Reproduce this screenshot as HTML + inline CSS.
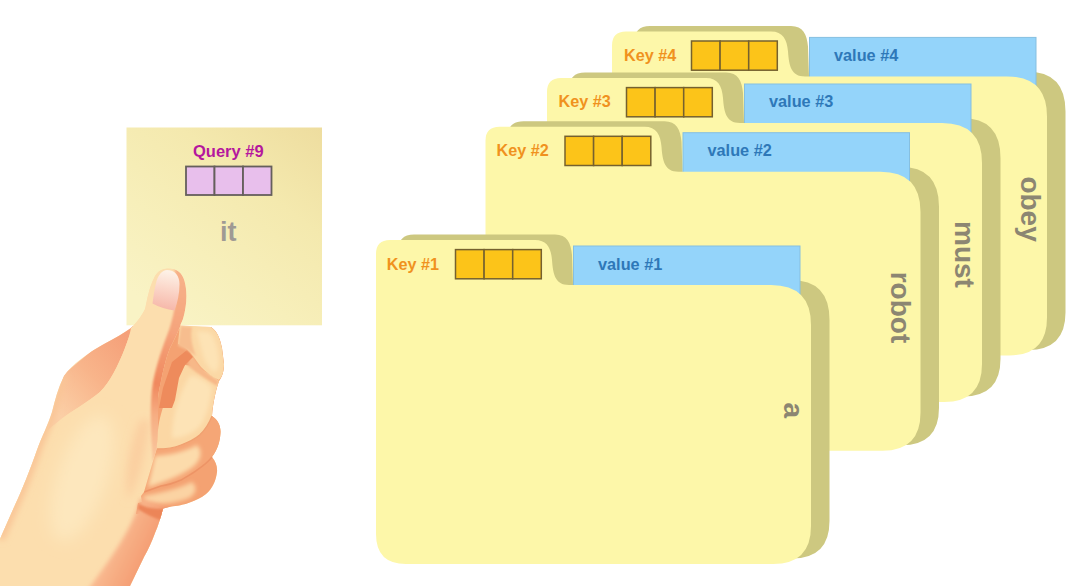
<!DOCTYPE html>
<html>
<head>
<meta charset="utf-8">
<style>
html,body{margin:0;padding:0;background:#fff;}
body{width:1080px;height:586px;overflow:hidden;font-family:"Liberation Sans",sans-serif;}
svg{display:block;}
text{font-family:"Liberation Sans",sans-serif;font-weight:bold;}
</style>
</head>
<body>
<svg width="1080" height="586" viewBox="0 0 1080 586">
<defs>
  <path id="fshape" d="M0,14 Q0,0 14,0 L159,0 C171,0 175,8 176,20 C177,34 179,45 193,45 L395,45 Q435,45 435,85 L435,286 Q435,324 397,324 L30,324 Q0,324 0,294 Z"/>
  <g id="folder">
    <path d="M22,11 Q22,-5.500 38,-5.500 L179,-5.500 C191,-5.500 195,3 196,15 L197,45 L415,40 Q453.500,40 453.500,80 L453.500,281 Q453.500,318.500 416,318.500 L50,318.500 Q20,318.500 20,289 Z" fill="#cdc880"/>
    <rect x="197.500" y="6" width="226.500" height="56" fill="#94d4fa" stroke="#86bfe0" stroke-width="1"/>
    <use href="#fshape" fill="#fdf7a9"/>
    <g fill="#fcc419" stroke="#75612f" stroke-width="1.5">
      <rect x="79.500" y="9.600" width="28.600" height="29.200"/>
      <rect x="108.100" y="9.600" width="28.600" height="29.200"/>
      <rect x="136.700" y="9.600" width="28.600" height="29.200"/>
    </g>
  </g>
  <linearGradient id="cardg" x1="1" y1="0" x2="0.25" y2="1">
    <stop offset="0" stop-color="#eedd9f"/>
    <stop offset="0.35" stop-color="#f4e9ae"/>
    <stop offset="0.7" stop-color="#f7efba"/>
    <stop offset="1" stop-color="#f9f3c5"/>
  </linearGradient>
</defs>
<rect width="1080" height="586" fill="#ffffff"/>

<!-- folders back to front -->
<g transform="translate(612,31.400)">
  <use href="#folder"/>
  <text x="12" y="29.700" font-size="16.200" fill="#f0921e">Key #4</text>
  <text x="222" y="29.700" font-size="16.300" fill="#2e78b8">value #4</text>
  <text transform="translate(409,145) rotate(90)" font-size="28" fill="#8c8672">obey</text>
</g>
<g transform="translate(547,78)">
  <use href="#folder"/>
  <text x="11.5" y="28.900" font-size="16.200" fill="#f0921e">Key #3</text>
  <text x="222" y="28.900" font-size="16.300" fill="#2e78b8">value #3</text>
  <text transform="translate(408,143) rotate(90)" font-size="28" fill="#8c8672">must</text>
</g>
<g transform="translate(485.5,126.7)">
  <use href="#folder"/>
  <text x="11" y="28.900" font-size="16.200" fill="#f0921e">Key #2</text>
  <text x="222" y="28.900" font-size="16.300" fill="#2e78b8">value #2</text>
  <text transform="translate(405.5,145) rotate(90)" font-size="28" fill="#8c8672">robot</text>
</g>
<g transform="translate(376,240)">
  <use href="#folder"/>
  <text x="10.7" y="29.700" font-size="16.200" fill="#f0921e">Key #1</text>
  <text x="222" y="29.700" font-size="16.300" fill="#2e78b8">value #1</text>
  <text transform="translate(408,162.5) rotate(90)" font-size="28" fill="#8c8672">a</text>
</g>

<!-- query card -->
<rect x="126.500" y="127.500" width="195.500" height="197.800" fill="url(#cardg)"/>
<text x="193" y="156.900" font-size="16.500" fill="#b5179e">Query #9</text>
<g fill="#e8bfec" stroke="#655f5c" stroke-width="1.8">
  <rect x="186" y="166.5" width="28.5" height="28.5"/>
  <rect x="214.5" y="166.5" width="28.5" height="28.5"/>
  <rect x="243" y="166.5" width="28.5" height="28.5"/>
</g>
<text x="220" y="240.5" font-size="27" fill="#9f9a94">it</text>

<!-- hand -->
<g id="hand">
<defs>
  <filter id="b1" x="-20%" y="-20%" width="140%" height="140%"><feGaussianBlur stdDeviation="1"/></filter>
  <filter id="b2" x="-20%" y="-20%" width="140%" height="140%"><feGaussianBlur stdDeviation="2"/></filter>
  <filter id="b3" x="-30%" y="-30%" width="160%" height="160%"><feGaussianBlur stdDeviation="3"/></filter>
  <filter id="b4" x="-30%" y="-30%" width="160%" height="160%"><feGaussianBlur stdDeviation="4"/></filter>
  <filter id="b8" x="-40%" y="-40%" width="180%" height="180%"><feGaussianBlur stdDeviation="8"/></filter>
  <clipPath id="thumbclip"><path d="M168,268.500 C177,268.500 182.500,273 184.500,281 C187.500,292 187,305 183,319 C179,330 174,340 170,348 C166,358 164,367 162,376 C160,386 158,394 158,400 L158,430 L156.600,449 L150,470 L100,470 L100,260 Z"/></clipPath>
  <clipPath id="handclip"><path d="M168,268.500 C177,268.500 182.500,273 184.500,281 C187.500,292 187,305 183,319 L180,325.5 L211,327 C217,331 220,338 222,348 L224,364 C224,372 222,377 219,381 C216,390 213,402 212,416 C218,420 221,426 220.500,433 C220,441 218,449 212,457 C216,462 217.500,467 217,472 C216,480 213,488 206,494 C201,498 196,500 191,502 C184,505 176,506 171,506.500 L163,508.500 C161,517 158,526 155,533 C152,541 148,550 144,557 L130,586 L0,586 L0,539 C5,528 10,516 15,505 C22,490 30,470 37,450 C42,436 48,425 52,412 C55,400 58,388 64,376 C72,364 88,353 104,344 C115,338 124,333 131,328 C138,321 142,315 145,309 C147.500,298 149,288 154,278 C157,272 161,268.500 168,268.500 Z"/></clipPath>
  <linearGradient id="thenar" gradientUnits="userSpaceOnUse" x1="130" y1="340" x2="55" y2="410">
    <stop offset="0" stop-color="#f5a079"/><stop offset="0.5" stop-color="#f8b48a"/><stop offset="1" stop-color="#fbcfa6"/>
  </linearGradient>
  <linearGradient id="nail" gradientUnits="userSpaceOnUse" x1="170" y1="272" x2="163" y2="310">
    <stop offset="0" stop-color="#fdf1e6"/><stop offset="0.4" stop-color="#fbd9cc"/><stop offset="1" stop-color="#f6b6a8"/>
  </linearGradient>
  <linearGradient id="armsh" gradientUnits="userSpaceOnUse" x1="108" y1="535" x2="150" y2="555">
    <stop offset="0" stop-color="#fac097"/><stop offset="0.5" stop-color="#f7ad83"/><stop offset="1" stop-color="#f49c72"/>
  </linearGradient>
  <linearGradient id="tband" gradientUnits="userSpaceOnUse" x1="183" y1="280" x2="156" y2="450">
    <stop offset="0" stop-color="#f7b088"/><stop offset="0.3" stop-color="#f5a47c"/><stop offset="0.62" stop-color="#f0895e"/><stop offset="0.8" stop-color="#f6ad82"/><stop offset="1" stop-color="#f9c298"/>
  </linearGradient>
</defs>
<g clip-path="url(#handclip)">
  <!-- base -->
  <rect x="0" y="260" width="240" height="330" fill="#fcdeae"/>
  <!-- thenar orange -->
  <path d="M131,326 L100,344 L64,374 L48,430 L59,421 C70,412 88,402 100,392 C110,382 118,366 125,348 C128,340 130,334 133,326 Z" fill="url(#thenar)"/>
  <!-- finger area base orange -->
  <path d="M160,330 L230,325 L230,520 L130,520 L134,500 L144,470 L150,450 L150,400 L156,370 L166,345 Z" fill="#f4a272"/>
  <!-- ring finger highlight -->
  <path d="M143,496 C160,493 178,489 192,482 C198,487 196,494 189,498 C176,503 160,505 145,504 Z" fill="#fbd3a3" filter="url(#b2)"/>
  <!-- wrist crease -->
  <path d="M138,503 C148,509 158,509 172,507 L172,514 L136,514 Z" fill="#ee895d" filter="url(#b1)"/>
  <!-- middle finger -->
  <path d="M156.600,449 C166,449 174,448 181,445 C189,442 195,439 199.600,435 C205,430 209,424 212,416 C218,420 221,426 220.500,433 C220,441 218,449 212,457 C208,462 203,466 197.600,469.600 C192,474 186,477 181,480 C174,483 168,485 161,486 L144,492 Z" fill="#f5a676"/>
  <path d="M155,456 C170,455 184,452 197,445 C203,451 201,460 194,466 C184,474 168,481 148,487 Z" fill="#fcdbab" filter="url(#b2)"/>
  <path d="M212,457 C208,462 203,466 197.600,469.600 C192,474 186,477 181,480 C174,483 168,485 161,486 L144,492" stroke="#ed9466" stroke-width="1.5" fill="none"/>
  <!-- index finger seg 2 -->
  <path d="M185,365 C196,366 208,372 219,381 C216,390 213,402 212,416 C209,424 205,430 199.600,435 C195,439 189,442 181,445 C174,448 166,449 156.600,449 L158,430 C160,410 172,380 185,365 Z" fill="#fbd7a4"/>
  <path d="M190,376 C198,376 208,382 212,388 C210,404 206,420 198,428 C190,435 180,438 172,438 C172,414 180,392 190,376 Z" fill="#fde3b6" filter="url(#b2)"/>
  <path d="M212,416 C209,424 205,430 199.600,435 C195,439 189,442 181,445 C174,448 166,449 156.600,449" stroke="#f0a070" stroke-width="1.3" fill="none"/>
  <path d="M190,352 C194,357 197,362 201,367 C206,372 212,377 219,381 L217,386 C208,380 198,374 188,366 Z" fill="#f7b888" filter="url(#b1)"/>
  <!-- dark red triangle between thumb and index -->
  <path d="M187,350 L193,357 L185,365 L179,378 L175,400 L172,408 L159,408 L163,388 L172,362 Z" fill="#ee8b5c"/>
  <!-- index finger seg 1 -->
  <path d="M180,325 L211,327 C217,331 220,338 222,348 L224,364 C224,372 222,377 219,380 C212,377 206,372 201,367 C197,362 194,357 190,352 C186,348 182,345 178,344 Z" fill="#fbd8a5"/>
  <path d="M181,326 L192,327 C190,336 192,346 196,356 L187,350 L178,346 Z" fill="#f7bd8e" filter="url(#b1)"/>
  <path d="M197,331 L209,332 C215,337 218,347 219,360 C219,368 217,372 214,372 C208,368 204,360 202,352 C200,344 198,337 197,331 Z" fill="#fde3b5" filter="url(#b2)"/>
  <!-- thumb + palm front -->
  <path d="M168,268.500 C177,268.500 182.500,273 184.500,281 C187.500,292 187,305 183,319 C179,330 174,340 170,348 C166,358 164,367 162,376 C160,386 158,394 158,400 L158,430 L156.600,449 L144,492 L141,496 L142,502 L138,503 L136,514 L172,514 L172,590 L-5,590 L-5,500 L48,430 L59,421 C70,412 88,402 100,392 C110,382 118,366 125,348 C128,340 130,334 131,328 C138,321 142,315 145,309 C147.500,298 149,288 154,278 C157,272 161,268.500 168,268.500 Z" fill="#fcdeae"/>
  <!-- lower-right arm orange shading -->
  <path d="M140,498 C136,520 118,550 86,592 L140,592 L170,508 Z" fill="url(#armsh)" filter="url(#b2)"/>
  <path d="M139,504 C148,509 158,509 165,508.500 L163,521 C154,518 145,514 138,509 Z" fill="#ec8559" filter="url(#b1)"/>
  <!-- palm right tint -->
  <path d="M150,420 C146,450 140,480 128,500 C124,480 128,450 140,420 Z" fill="#fbcfa0" filter="url(#b4)"/>
  <!-- left edge tint -->
  <path d="M64,376 C58,388 55,400 52,412 C48,425 42,436 37,450 C30,470 22,490 15,505 C10,516 5,528 0,539" stroke="#f9c596" stroke-width="9" fill="none" filter="url(#b3)"/>
  <!-- palm highlight -->
  <ellipse cx="82" cy="478" rx="25" ry="66" transform="rotate(19 82 478)" fill="#fde7bd" filter="url(#b8)"/>
  <!-- thumb right edge shade -->
  <g clip-path="url(#thumbclip)">
  <path d="M174,266 L192,270 L192,319 C186,330 178,340 174,348 C170,358 168,367 166,376 C164,386 162,394 162,400 L162,430 L160,449 L153,462 C151,440 149,404 153,382 C157,362 163,346 169,330 C175,312 179,290 174,266 Z" fill="url(#tband)" filter="url(#b1)"/>
  </g>
  <!-- nail -->
  <path d="M167,270 C175,270 179.500,276 179.500,284 C179.500,294 177.500,302 174.500,310.500 C167,309.500 159,307 152.500,303.500 C153.500,296 154.500,288 156.500,281 C158.500,275 162,270 167,270 Z" fill="url(#nail)"/>
</g>
</g>
</svg>
</body>
</html>
